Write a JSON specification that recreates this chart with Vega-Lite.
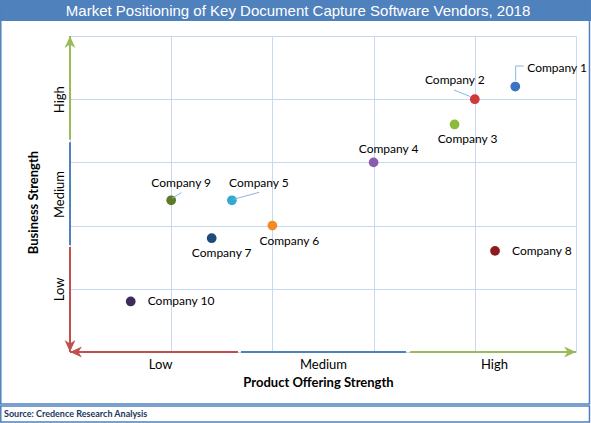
{
  "$schema": "https://vega.github.io/schema/vega-lite/v6.json",
  "width": 506,
  "height": 316,
  "autosize": {"type": "none"},
  "padding": {"left": 70, "top": 36, "right": 15, "bottom": 71},
  "background": "white",
  "config": {
    "view": {"stroke": null},
    "font": "Lato",
    "axis": {
      "labelFont": "Lato",
      "titleFont": "Lato",
      "labelColor": "#000000",
      "titleColor": "#000000",
      "ticks": false,
      "domain": false,
      "gridColor": "#c6d9f1",
      "gridWidth": 1
    }
  },
  "datasets": {
    "companies": [
      {"company": "Company 1", "product": 4.4, "business": 4.2},
      {"company": "Company 2", "product": 4.0, "business": 4.0},
      {"company": "Company 3", "product": 3.8, "business": 3.6},
      {"company": "Company 4", "product": 3.0, "business": 3.0},
      {"company": "Company 5", "product": 1.6, "business": 2.4},
      {"company": "Company 6", "product": 2.0, "business": 2.0},
      {"company": "Company 7", "product": 1.4, "business": 1.8},
      {"company": "Company 8", "product": 4.2, "business": 1.6},
      {"company": "Company 9", "product": 1.0, "business": 2.4},
      {"company": "Company 10", "product": 0.6, "business": 0.8}
    ],
    "levels": [
      {"level": "Low", "from": 0, "to": 1.66},
      {"level": "Medium", "from": 1.69, "to": 3.32},
      {"level": "High", "from": 3.36, "to": 5}
    ],
    "one": [{}]
  },
  "data": {"name": "companies"},
  "layer": [
    {
      "mark": {"type": "circle", "size": 95, "opacity": 1},
      "encoding": {
        "x": {
          "field": "product",
          "type": "quantitative",
          "scale": {"domain": [0, 5], "nice": false, "zero": false},
          "axis": {
            "title": "Product Offering Strength",
            "values": [0, 0.89, 1, 2, 2.5, 3, 4, 4.19, 5],
            "labelExpr": "datum.value == 0.89 ? 'Low' : datum.value == 2.5 ? 'Medium' : datum.value == 4.19 ? 'High' : ''",
            "gridOpacity": {"condition": {"test": "datum.value % 1 != 0", "value": 0}, "value": 1},
            "labelFontSize": 13,
            "labelPadding": 6,
            "labelOverlap": false,
            "labelFlush": false,
            "titleFontSize": 13,
            "titleFontWeight": "bold",
            "titlePadding": 5,
            "titleX": 248
          }
        },
        "y": {
          "field": "business",
          "type": "quantitative",
          "scale": {"domain": [0, 5], "nice": false, "zero": false},
          "axis": {
            "title": "Business Strength",
            "values": [0, 1, 2, 2.5, 3, 4, 5],
            "labelExpr": "datum.value == 1 ? 'Low' : datum.value == 2.5 ? 'Medium' : datum.value == 4 ? 'High' : ''",
            "gridOpacity": {"condition": {"test": "datum.value == 2.5", "value": 0}, "value": 1},
            "labelAngle": -90,
            "labelAlign": "center",
            "labelBaseline": "bottom",
            "labelFontSize": 13,
            "labelPadding": 4,
            "labelOverlap": false,
            "labelFlush": false,
            "titleFontSize": 13,
            "titleFontWeight": "bold",
            "titlePadding": 13,
            "titleY": 166
          }
        },
        "color": {
          "field": "company",
          "type": "nominal",
          "scale": {
            "domain": ["Company 1", "Company 2", "Company 3", "Company 4", "Company 5", "Company 6", "Company 7", "Company 8", "Company 9", "Company 10"],
            "range": ["#3873c4", "#d0383a", "#8cbb3c", "#8a5cb0", "#31aad0", "#f28a26", "#1f4b7a", "#8c1c1c", "#5b7a26", "#3f2b5e"]
          },
          "legend": null
        }
      }
    },
    {
      "data": {"name": "one"},
      "mark": {"type": "rect", "color": "#4f81bd"},
      "encoding": {
        "x": {"datum": -0.692, "type": "quantitative"},
        "x2": {"datum": 5.148},
        "y": {"datum": 5.570, "type": "quantitative"},
        "y2": {"datum": 5.237}
      }
    },
    {
      "data": {"name": "one"},
      "mark": {"type": "rect", "filled": false, "stroke": "#4f81bd", "strokeWidth": 1.5},
      "encoding": {
        "x": {"datum": -0.684, "type": "quantitative"},
        "x2": {"datum": 5.133},
        "y": {"datum": 5.558, "type": "quantitative"},
        "y2": {"datum": -0.823}
      }
    },
    {
      "data": {"name": "one"},
      "mark": {"type": "rect", "filled": false, "stroke": "#4f81bd", "strokeWidth": 1.5},
      "encoding": {
        "x": {"datum": -0.684, "type": "quantitative"},
        "x2": {"datum": 5.133},
        "y": {"datum": -0.854, "type": "quantitative"},
        "y2": {"datum": -1.108}
      }
    },
    {
      "data": {"name": "one"},
      "mark": {"type": "text", "text": "Market Positioning of Key Document Capture Software  Vendors, 2018", "font": "Liberation Sans", "fontSize": 15, "color": "#ffffff", "align": "center", "baseline": "middle"},
      "encoding": {
        "x": {"datum": 2.253, "type": "quantitative"},
        "y": {"datum": 5.396, "type": "quantitative"}
      }
    },
    {
      "data": {"name": "one"},
      "mark": {"type": "text", "text": "Source: Credence Research Analysis", "font": "Lato", "fontSize": 9, "fontWeight": "bold", "color": "#17375e", "align": "left", "baseline": "middle"},
      "encoding": {
        "x": {"datum": -0.652, "type": "quantitative"},
        "y": {"datum": -0.981, "type": "quantitative"}
      }
    },
    {
      "data": {"name": "levels"},
      "mark": {"type": "rule", "strokeWidth": 2},
      "encoding": {
        "x": {"datum": 0, "type": "quantitative"},
        "y": {"field": "from", "type": "quantitative"},
        "y2": {"field": "to"},
        "stroke": {"field": "level", "type": "nominal", "scale": {"domain": ["Low", "Medium", "High"], "range": ["#c0504d", "#4f81bd", "#9bbb59"]}, "legend": null}
      }
    },
    {
      "data": {"name": "levels"},
      "mark": {"type": "rule", "strokeWidth": 2},
      "encoding": {
        "y": {"datum": 0, "type": "quantitative"},
        "x": {"field": "from", "type": "quantitative"},
        "x2": {"field": "to"},
        "stroke": {"field": "level", "type": "nominal", "scale": {"domain": ["Low", "Medium", "High"], "range": ["#c0504d", "#4f81bd", "#9bbb59"]}, "legend": null}
      }
    },
    {
      "data": {"name": "one"},
      "mark": {"type": "point", "shape": "M0,0L-0.9,-2L0,-1.4L0.9,-2Z", "filled": true, "opacity": 1, "size": 144, "color": "#c0504d"},
      "encoding": {
        "x": {"datum": 0, "type": "quantitative"},
        "y": {"datum": 0, "type": "quantitative"}
      }
    },
    {
      "data": {"name": "one"},
      "mark": {"type": "point", "shape": "M0,0L-0.9,2L0,1.4L0.9,2Z", "filled": true, "opacity": 1, "size": 144, "color": "#9bbb59"},
      "encoding": {
        "x": {"datum": 0, "type": "quantitative"},
        "y": {"datum": 5, "type": "quantitative"}
      }
    },
    {
      "data": {"name": "one"},
      "mark": {"type": "point", "shape": "M0,0L2,-0.9L1.4,0L2,0.9Z", "filled": true, "opacity": 1, "size": 144, "color": "#c0504d"},
      "encoding": {
        "x": {"datum": 0, "type": "quantitative"},
        "y": {"datum": 0, "type": "quantitative"}
      }
    },
    {
      "data": {"name": "one"},
      "mark": {"type": "point", "shape": "M0,0L-2,-0.9L-1.4,0L-2,0.9Z", "filled": true, "opacity": 1, "size": 144, "color": "#9bbb59"},
      "encoding": {
        "x": {"datum": 5, "type": "quantitative"},
        "y": {"datum": 0, "type": "quantitative"}
      }
    },
    {
      "data": {"name": "one"},
      "mark": {"type": "rule", "color": "#8db3e2", "strokeWidth": 1},
      "encoding": {
        "x": {"datum": 4.404, "type": "quantitative"},
        "y": {"datum": 4.293, "type": "quantitative"},
        "x2": {"datum": 4.404},
        "y2": {"datum": 4.525}
      }
    },
    {
      "data": {"name": "one"},
      "mark": {"type": "rule", "color": "#8db3e2", "strokeWidth": 1},
      "encoding": {
        "x": {"datum": 4.404, "type": "quantitative"},
        "y": {"datum": 4.525, "type": "quantitative"},
        "x2": {"datum": 4.483},
        "y2": {"datum": 4.525}
      }
    },
    {
      "data": {"name": "one"},
      "mark": {"type": "rule", "color": "#8db3e2", "strokeWidth": 1},
      "encoding": {
        "x": {"datum": 3.794, "type": "quantitative"},
        "y": {"datum": 4.146, "type": "quantitative"},
        "x2": {"datum": 3.959},
        "y2": {"datum": 4.040}
      }
    },
    {
      "data": {"name": "one"},
      "mark": {"type": "rule", "color": "#8db3e2", "strokeWidth": 1},
      "encoding": {
        "x": {"datum": 1.614, "type": "quantitative"},
        "y": {"datum": 2.416, "type": "quantitative"},
        "x2": {"datum": 1.871},
        "y2": {"datum": 2.527}
      }
    },
    {
      "data": {"name": "one"},
      "mark": {"type": "rule", "color": "#8db3e2", "strokeWidth": 1},
      "encoding": {
        "x": {"datum": 1.008, "type": "quantitative"},
        "y": {"datum": 2.432, "type": "quantitative"},
        "x2": {"datum": 1.100},
        "y2": {"datum": 2.521}
      }
    },
    {
      "transform": [{"filter": {"field": "company", "oneOf": ["Company 8", "Company 10"]}}],
      "mark": {"type": "text", "fontSize": 12, "color": "#000000", "align": "left", "baseline": "middle", "dx": 17, "dy": 0},
      "encoding": {
        "x": {"field": "product", "type": "quantitative"},
        "y": {"field": "business", "type": "quantitative"},
        "text": {"field": "company"}
      }
    },
    {
      "transform": [{"filter": {"field": "company", "equal": "Company 1"}}],
      "mark": {"type": "text", "fontSize": 12, "color": "#000000", "align": "left", "baseline": "middle", "dx": 12, "dy": -19},
      "encoding": {
        "x": {"field": "product", "type": "quantitative"},
        "y": {"field": "business", "type": "quantitative"},
        "text": {"field": "company"}
      }
    },
    {
      "transform": [{"filter": {"field": "company", "equal": "Company 2"}}],
      "mark": {"type": "text", "fontSize": 12, "color": "#000000", "align": "center", "baseline": "middle", "dx": -20, "dy": -19},
      "encoding": {
        "x": {"field": "product", "type": "quantitative"},
        "y": {"field": "business", "type": "quantitative"},
        "text": {"field": "company"}
      }
    },
    {
      "transform": [{"filter": {"field": "company", "equal": "Company 3"}}],
      "mark": {"type": "text", "fontSize": 12, "color": "#000000", "align": "center", "baseline": "middle", "dx": 13, "dy": 15},
      "encoding": {
        "x": {"field": "product", "type": "quantitative"},
        "y": {"field": "business", "type": "quantitative"},
        "text": {"field": "company"}
      }
    },
    {
      "transform": [{"filter": {"field": "company", "equal": "Company 4"}}],
      "mark": {"type": "text", "fontSize": 12, "color": "#000000", "align": "center", "baseline": "middle", "dx": 15, "dy": -13},
      "encoding": {
        "x": {"field": "product", "type": "quantitative"},
        "y": {"field": "business", "type": "quantitative"},
        "text": {"field": "company"}
      }
    },
    {
      "transform": [{"filter": {"field": "company", "equal": "Company 5"}}],
      "mark": {"type": "text", "fontSize": 12, "color": "#000000", "align": "center", "baseline": "middle", "dx": 27, "dy": -17},
      "encoding": {
        "x": {"field": "product", "type": "quantitative"},
        "y": {"field": "business", "type": "quantitative"},
        "text": {"field": "company"}
      }
    },
    {
      "transform": [{"filter": {"field": "company", "equal": "Company 6"}}],
      "mark": {"type": "text", "fontSize": 12, "color": "#000000", "align": "center", "baseline": "middle", "dx": 17, "dy": 15},
      "encoding": {
        "x": {"field": "product", "type": "quantitative"},
        "y": {"field": "business", "type": "quantitative"},
        "text": {"field": "company"}
      }
    },
    {
      "transform": [{"filter": {"field": "company", "equal": "Company 7"}}],
      "mark": {"type": "text", "fontSize": 12, "color": "#000000", "align": "center", "baseline": "middle", "dx": 10, "dy": 15},
      "encoding": {
        "x": {"field": "product", "type": "quantitative"},
        "y": {"field": "business", "type": "quantitative"},
        "text": {"field": "company"}
      }
    },
    {
      "transform": [{"filter": {"field": "company", "equal": "Company 9"}}],
      "mark": {"type": "text", "fontSize": 12, "color": "#000000", "align": "center", "baseline": "middle", "dx": 10, "dy": -17},
      "encoding": {
        "x": {"field": "product", "type": "quantitative"},
        "y": {"field": "business", "type": "quantitative"},
        "text": {"field": "company"}
      }
    }
  ]
}
